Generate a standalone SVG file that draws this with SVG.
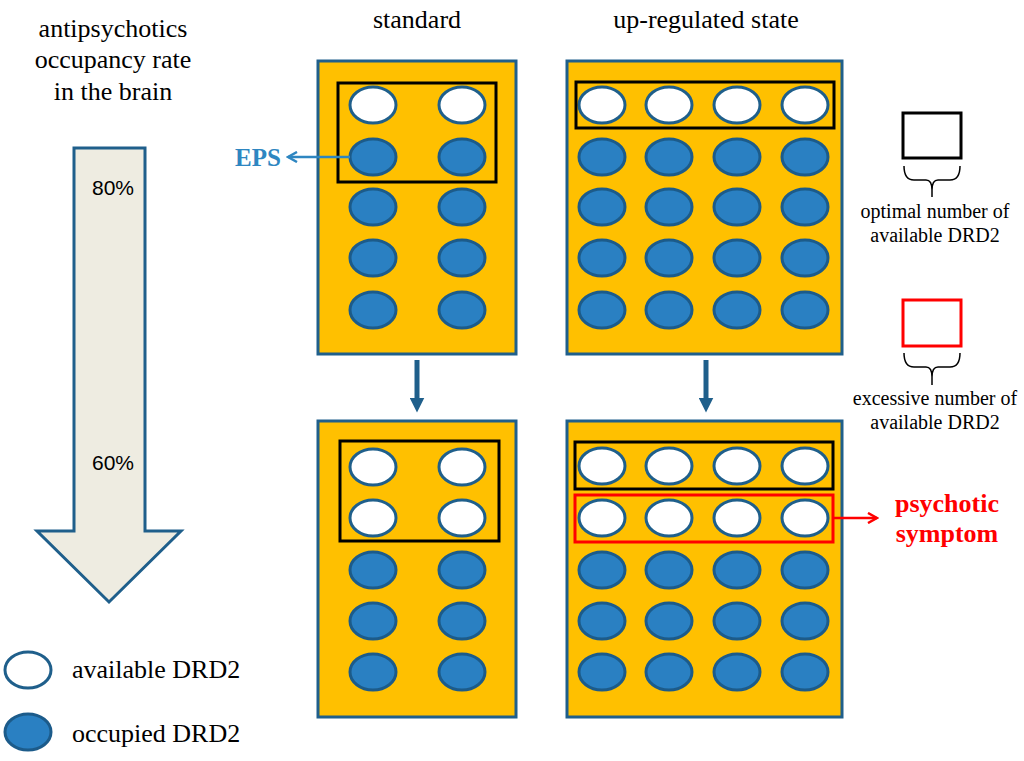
<svg xmlns="http://www.w3.org/2000/svg" width="1024" height="761" viewBox="0 0 1024 761">
<defs>
<style>
.t{font-family:"Liberation Serif","Times New Roman",serif;font-size:26px;fill:#000}
.s{font-family:"Liberation Serif","Times New Roman",serif;font-size:20px;fill:#000;text-anchor:middle}
.pct{font-family:"Liberation Sans",Arial,sans-serif;font-size:21px;fill:#000;text-anchor:middle}
.panel{fill:#FFC000;stroke:#1F5F8B;stroke-width:3}
.occ{fill:#2A80C2;stroke:#1C5B8A;stroke-width:3}
.av{fill:#fff;stroke:#1F5F8B;stroke-width:3}
.bk{fill:none;stroke:#000;stroke-width:3}
.rd{fill:none;stroke:#FF0000;stroke-width:3}
.brace{fill:none;stroke:#000;stroke-width:1.5}
</style>
<marker id="down" viewBox="0 0 10 10" refX="5" refY="5" markerWidth="3" markerHeight="3" orient="auto"><path d="M0,0 L10,5 L0,10 z" fill="#1F5F8B"/></marker>
<marker id="openb" viewBox="0 0 12 12" refX="10" refY="6" markerWidth="12" markerHeight="12" markerUnits="userSpaceOnUse" orient="auto"><path d="M1,1 L10,6 L1,11" fill="none" stroke="#2E86C1" stroke-width="2.5"/></marker>
<marker id="openr" viewBox="0 0 12 12" refX="10" refY="6" markerWidth="12" markerHeight="12" markerUnits="userSpaceOnUse" orient="auto"><path d="M1,1 L10,6 L1,11" fill="none" stroke="#FF0000" stroke-width="2.5"/></marker>
</defs>
<rect width="1024" height="761" fill="#fff"/>

<g id="title-left">
<text class="t" x="113" y="37" text-anchor="middle">antipsychotics</text>
<text class="t" x="113" y="68" text-anchor="middle">occupancy rate</text>
<text class="t" x="113" y="100" text-anchor="middle">in the brain</text>
</g>

<g id="occupancy-arrow">
<path d="M74,148 L145,148 L145,531 L181,531 L109,602 L37,531 L74,531 Z" fill="#EEECE1" stroke="#1F5F8B" stroke-width="3"/>
<text class="pct" x="113" y="195">80%</text>
<text class="pct" x="113" y="470">60%</text>
</g>

<g id="title-standard"><text class="t" x="417" y="28" text-anchor="middle">standard</text></g>
<g id="title-upregulated"><text class="t" x="706" y="28" text-anchor="middle">up-regulated state</text></g>

<g id="panel-standard-80">
<rect class="panel" x="318" y="61" width="198" height="293"/>
<ellipse class="av" cx="373" cy="105" rx="23" ry="18"/><ellipse class="av" cx="462" cy="105" rx="23" ry="18"/>
<ellipse class="occ" cx="373" cy="157" rx="23" ry="18"/><ellipse class="occ" cx="462" cy="157" rx="23" ry="18"/>
<ellipse class="occ" cx="373" cy="207" rx="23" ry="18"/><ellipse class="occ" cx="462" cy="207" rx="23" ry="18"/>
<ellipse class="occ" cx="373" cy="258" rx="23" ry="18"/><ellipse class="occ" cx="462" cy="258" rx="23" ry="18"/>
<ellipse class="occ" cx="373" cy="310" rx="23" ry="18"/><ellipse class="occ" cx="462" cy="310" rx="23" ry="18"/>
<rect class="bk" x="338" y="83" width="158" height="99"/>
</g>

<g id="panel-upregulated-80">
<rect class="panel" x="567" y="61" width="275" height="293"/>
<ellipse class="av" cx="602" cy="105" rx="23" ry="18"/><ellipse class="av" cx="669" cy="105" rx="23" ry="18"/><ellipse class="av" cx="737" cy="105" rx="23" ry="18"/><ellipse class="av" cx="805" cy="105" rx="23" ry="18"/>
<ellipse class="occ" cx="602" cy="157" rx="23" ry="18"/><ellipse class="occ" cx="669" cy="157" rx="23" ry="18"/><ellipse class="occ" cx="737" cy="157" rx="23" ry="18"/><ellipse class="occ" cx="805" cy="157" rx="23" ry="18"/>
<ellipse class="occ" cx="602" cy="207" rx="23" ry="18"/><ellipse class="occ" cx="669" cy="207" rx="23" ry="18"/><ellipse class="occ" cx="737" cy="207" rx="23" ry="18"/><ellipse class="occ" cx="805" cy="207" rx="23" ry="18"/>
<ellipse class="occ" cx="602" cy="258" rx="23" ry="18"/><ellipse class="occ" cx="669" cy="258" rx="23" ry="18"/><ellipse class="occ" cx="737" cy="258" rx="23" ry="18"/><ellipse class="occ" cx="805" cy="258" rx="23" ry="18"/>
<ellipse class="occ" cx="602" cy="310" rx="23" ry="18"/><ellipse class="occ" cx="669" cy="310" rx="23" ry="18"/><ellipse class="occ" cx="737" cy="310" rx="23" ry="18"/><ellipse class="occ" cx="805" cy="310" rx="23" ry="18"/>
<rect class="bk" x="576" y="82" width="258" height="46"/>
</g>

<g id="panel-standard-60">
<rect class="panel" x="318" y="421" width="198" height="296"/>
<ellipse class="av" cx="373" cy="467" rx="23" ry="18"/><ellipse class="av" cx="462" cy="467" rx="23" ry="18"/>
<ellipse class="av" cx="373" cy="518" rx="23" ry="18"/><ellipse class="av" cx="462" cy="518" rx="23" ry="18"/>
<ellipse class="occ" cx="373" cy="570" rx="23" ry="18"/><ellipse class="occ" cx="462" cy="570" rx="23" ry="18"/>
<ellipse class="occ" cx="373" cy="621" rx="23" ry="18"/><ellipse class="occ" cx="462" cy="621" rx="23" ry="18"/>
<ellipse class="occ" cx="373" cy="672" rx="23" ry="18"/><ellipse class="occ" cx="462" cy="672" rx="23" ry="18"/>
<rect class="bk" x="340" y="441" width="159" height="100"/>
</g>

<g id="panel-upregulated-60">
<rect class="panel" x="567" y="421" width="275" height="296"/>
<ellipse class="av" cx="602" cy="466" rx="23" ry="18"/><ellipse class="av" cx="669" cy="466" rx="23" ry="18"/><ellipse class="av" cx="737" cy="466" rx="23" ry="18"/><ellipse class="av" cx="805" cy="466" rx="23" ry="18"/>
<ellipse class="av" cx="602" cy="518" rx="23" ry="18"/><ellipse class="av" cx="669" cy="518" rx="23" ry="18"/><ellipse class="av" cx="737" cy="518" rx="23" ry="18"/><ellipse class="av" cx="805" cy="518" rx="23" ry="18"/>
<ellipse class="occ" cx="602" cy="570" rx="23" ry="18"/><ellipse class="occ" cx="669" cy="570" rx="23" ry="18"/><ellipse class="occ" cx="737" cy="570" rx="23" ry="18"/><ellipse class="occ" cx="805" cy="570" rx="23" ry="18"/>
<ellipse class="occ" cx="602" cy="621" rx="23" ry="18"/><ellipse class="occ" cx="669" cy="621" rx="23" ry="18"/><ellipse class="occ" cx="737" cy="621" rx="23" ry="18"/><ellipse class="occ" cx="805" cy="621" rx="23" ry="18"/>
<ellipse class="occ" cx="602" cy="672" rx="23" ry="18"/><ellipse class="occ" cx="669" cy="672" rx="23" ry="18"/><ellipse class="occ" cx="737" cy="672" rx="23" ry="18"/><ellipse class="occ" cx="805" cy="672" rx="23" ry="18"/>
<rect class="bk" x="575" y="442" width="258" height="47"/>
<rect class="rd" x="575" y="495" width="258" height="47"/>
</g>

<g id="connectors">
<line x1="417" y1="360" x2="417" y2="405" stroke="#1F5F8B" stroke-width="5" marker-end="url(#down)"/>
<line x1="706" y1="360" x2="706" y2="405" stroke="#1F5F8B" stroke-width="5" marker-end="url(#down)"/>
<line x1="350" y1="157" x2="288" y2="157" stroke="#2E86C1" stroke-width="2.5" marker-end="url(#openb)"/>
<line x1="833" y1="518" x2="877" y2="518" stroke="#FF0000" stroke-width="2.5" marker-end="url(#openr)"/>
</g>

<g id="label-eps"><text x="258" y="166" text-anchor="middle" font-family="Liberation Serif,Times New Roman,serif" font-size="25" font-weight="bold" fill="#2E86C1">EPS</text></g>

<g id="label-psychotic">
<text x="947" y="512" text-anchor="middle" font-family="Liberation Serif,Times New Roman,serif" font-size="26" font-weight="bold" fill="#FF0000">psychotic</text>
<text x="947" y="542" text-anchor="middle" font-family="Liberation Serif,Times New Roman,serif" font-size="26" font-weight="bold" fill="#FF0000">symptom</text>
</g>

<g id="legend-optimal">
<rect class="bk" x="903" y="113" width="58" height="45"/>
<path class="brace" d="M904,166 Q904,180 914,180 L926,180 Q932,180 932,190 L932,197 M932,190 Q932,180 938,180 L950,180 Q960,180 960,166"/>
<text class="s" x="935" y="218">optimal number of</text>
<text class="s" x="935" y="242">available DRD2</text>
</g>

<g id="legend-excessive">
<rect class="rd" x="903" y="300" width="58" height="46"/>
<path class="brace" d="M904,353 Q904,367 914,367 L926,367 Q932,367 932,377 L932,385 M932,377 Q932,367 938,367 L950,367 Q960,367 960,353"/>
<text class="s" x="935" y="405">excessive number of</text>
<text class="s" x="935" y="429">available DRD2</text>
</g>

<g id="legend-available">
<ellipse class="av" cx="28" cy="670" rx="23" ry="18"/>
<text class="t" x="72" y="678">available DRD2</text>
</g>
<g id="legend-occupied">
<ellipse class="occ" cx="28" cy="732" rx="23" ry="18"/>
<text class="t" x="72" y="742">occupied DRD2</text>
</g>
</svg>
